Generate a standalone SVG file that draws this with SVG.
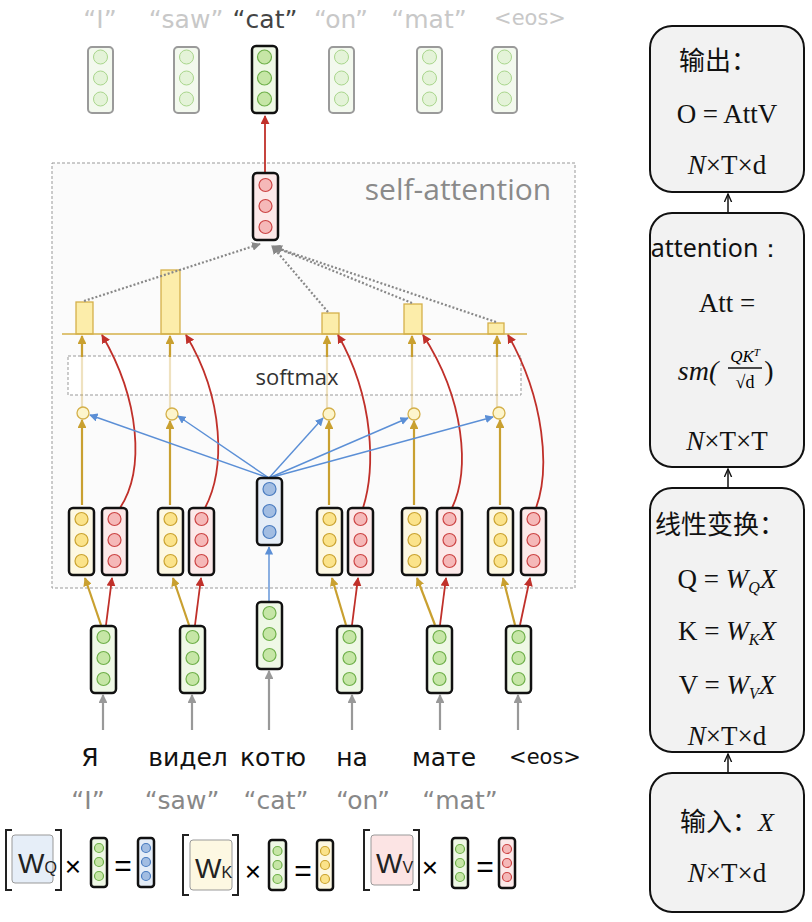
<svg xmlns="http://www.w3.org/2000/svg" width="812" height="922" viewBox="0 0 812 922">
<defs>
<style>
.vb{stroke:#111;stroke-width:2.5}
.g{fill:#eff8e6}.gc{fill:#c6e6a6;stroke:#6fb04a;stroke-width:1.2}
.y{fill:#fdf8e2}.yc{fill:#fbe38a;stroke:#caa330;stroke-width:1.2}
.r{fill:#fce9e9}.rc{fill:#f5b8b8;stroke:#cc4444;stroke-width:1.2}
.b{fill:#e5edf7}.bc{fill:#a2bde2;stroke:#4a7cc0;stroke-width:1.2}
.fg{fill:#f3f9ee;stroke:#9a9a9a;stroke-width:2}.fgc{fill:#e4f3d8;stroke:#a9d68c;stroke-width:1}
.word{font-family:"DejaVu Sans",sans-serif;font-size:25px;fill:#111;text-anchor:middle}
.gl{font-family:"DejaVu Sans",sans-serif;font-size:25px;fill:#888;text-anchor:middle}
.tl{font-family:"DejaVu Sans",sans-serif;font-size:25px;fill:#c8c8c8;text-anchor:middle}
.gold{stroke:#c9a030;stroke-width:2.2;fill:none}
.red{stroke:#c0302a;stroke-width:1.8;fill:none}
.blue{stroke:#5b8fd6;stroke-width:1.4;fill:none}
.gray{stroke:#999;stroke-width:2.2;fill:none}
.dot{stroke:#888;stroke-width:2.2;stroke-dasharray:2 2;fill:none}
.rb{fill:#f2f2f2;stroke:#111;stroke-width:2}
.m{font-family:"Liberation Serif",serif;font-size:27px;fill:#111;text-anchor:middle}
.cj{font-family:"Noto Sans CJK SC","Noto Sans",sans-serif;font-size:26px;fill:#111;text-anchor:middle}
</style>
<marker id="ag" viewBox="0 0 10 10" refX="9" refY="5" markerWidth="4" markerHeight="4" orient="auto"><path d="M0,0L10,5L0,10z" fill="#c9a030"/></marker>
<marker id="ar" viewBox="0 0 10 10" refX="9" refY="5" markerWidth="5" markerHeight="5" orient="auto"><path d="M0,0L10,5L0,10z" fill="#c0302a"/></marker>
<marker id="ab" viewBox="0 0 10 10" refX="9" refY="5" markerWidth="6" markerHeight="6" orient="auto"><path d="M0,0L10,5L0,10z" fill="#5b8fd6"/></marker>
<marker id="ay" viewBox="0 0 10 10" refX="9" refY="5" markerWidth="4" markerHeight="4" orient="auto"><path d="M0,0L10,5L0,10z" fill="#999"/></marker>
<marker id="ad" viewBox="0 0 10 10" refX="9" refY="5" markerWidth="4" markerHeight="4" orient="auto"><path d="M0,0L10,5L0,10z" fill="#888"/></marker>
<marker id="ak" viewBox="0 0 10 10" refX="9" refY="5" markerWidth="6" markerHeight="6" orient="auto"><path d="M0,1L9,5L0,9" fill="none" stroke="#111" stroke-width="1.5"/></marker>
</defs>

<rect x="52" y="163" width="523" height="425" fill="#fbfbfb" stroke="#999" stroke-dasharray="3 2"/>
<text x="458" y="200" font-family="Open Sans,sans-serif" font-size="30" fill="#8a8a8a" text-anchor="middle">self-attention</text>
<rect x="68" y="356" width="453" height="39" fill="#fff" stroke="#999" stroke-dasharray="3 2"/>
<text x="297" y="385" font-family="Open Sans,sans-serif" font-size="22" fill="#333" text-anchor="middle">softmax</text>

<g id="top-labels">
<text class="tl" x="100" y="28">“I”</text>
<text class="tl" x="186" y="28">“saw”</text>
<text class="word" x="265" y="28" style="fill:#444">“cat”</text>
<text class="tl" x="341" y="28">“on”</text>
<text class="tl" x="429" y="28">“mat”</text>
<text class="tl" x="530" y="25" style="font-size:21px">&lt;eos&gt;</text>
</g>
<g id="top-vectors">
<rect class="fg" x="88" y="47" width="25" height="66" rx="4"/><circle class="fgc" cx="100.5" cy="57" r="7"/><circle class="fgc" cx="100.5" cy="78" r="7"/><circle class="fgc" cx="100.5" cy="99" r="7"/>
<rect class="fg" x="174" y="47" width="25" height="66" rx="4"/><circle class="fgc" cx="186.5" cy="57" r="7"/><circle class="fgc" cx="186.5" cy="78" r="7"/><circle class="fgc" cx="186.5" cy="99" r="7"/>
<rect class="g vb" x="252" y="46" width="25" height="67" rx="4"/><circle class="gc" cx="264.5" cy="57" r="7"/><circle class="gc" cx="264.5" cy="78" r="7"/><circle class="gc" cx="264.5" cy="99" r="7"/>
<rect class="fg" x="329" y="47" width="25" height="66" rx="4"/><circle class="fgc" cx="341.5" cy="57" r="7"/><circle class="fgc" cx="341.5" cy="78" r="7"/><circle class="fgc" cx="341.5" cy="99" r="7"/>
<rect class="fg" x="417" y="47" width="25" height="66" rx="4"/><circle class="fgc" cx="429.5" cy="57" r="7"/><circle class="fgc" cx="429.5" cy="78" r="7"/><circle class="fgc" cx="429.5" cy="99" r="7"/>
<rect class="fg" x="492" y="47" width="25" height="66" rx="4"/><circle class="fgc" cx="504.5" cy="57" r="7"/><circle class="fgc" cx="504.5" cy="78" r="7"/><circle class="fgc" cx="504.5" cy="99" r="7"/>
</g>

<g id="bars" fill="#fcedaa" stroke="#d4b04a" stroke-width="1.3">
<rect x="76" y="302" width="17" height="32"/>
<rect x="161" y="270" width="19" height="64"/>
<rect x="322" y="313" width="17" height="21"/>
<rect x="404" y="304" width="18" height="30"/>
<rect x="488" y="323" width="16" height="11"/>
<line x1="62" y1="334" x2="527" y2="334" stroke="#d4b04a" stroke-width="1.6"/>
</g>
<g id="scores" fill="#fdf5cc" stroke="#d4b04a" stroke-width="1.3">
<circle cx="83" cy="413" r="6"/><circle cx="172" cy="414" r="6"/><circle cx="329" cy="414" r="6"/><circle cx="414" cy="414" r="6"/><circle cx="499" cy="413" r="6"/>
</g>

<g id="connectors">
<line class="red" x1="265" y1="173" x2="265" y2="116" marker-end="url(#ar)" stroke-width="2.2"/>
<path class="dot" d="M84 301L260 244" marker-end="url(#ad)"/>
<path class="dot" d="M328 312L272 246" marker-end="url(#ad)"/>
<path class="dot" d="M412 303L272 246" marker-end="url(#ad)"/>
<path class="dot" d="M496 322L274 247" marker-end="url(#ad)"/>
<g class="gold" marker-end="url(#ag)">
<path d="M82 505V420"/><path d="M170 505V421"/><path d="M329 505V421"/><path d="M414 505V421"/><path d="M500 505V420"/>
</g>
<g stroke="#c9a030" stroke-width="2.2" stroke-opacity="0.3">
<path d="M82 407V338"/><path d="M170 408V338"/><path d="M327 408V338"/><path d="M412 408V338"/><path d="M497 407V338"/>
</g>
<g class="gold" marker-end="url(#ag)">
<path d="M82 357V336"/><path d="M170 357V336"/><path d="M327 357V336"/><path d="M412 357V336"/><path d="M497 357V336"/>
</g>
<g class="red" marker-end="url(#ar)">
<path d="M120 508C145 470 140 400 102 335"/>
<path d="M205 508C225 470 225 400 186 335"/>
<path d="M363 508C375 470 375 400 338 335"/>
<path d="M452 508C470 470 465 400 423 335"/>
<path d="M536 508C550 470 545 400 508 335"/>
</g>
<g class="blue" marker-end="url(#ab)">
<path d="M269 478L90 415"/><path d="M269 478L178 416"/><path d="M269 478L323 418"/><path d="M269 478L408 418"/><path d="M269 478L493 417"/>
</g>
<g class="gold" marker-end="url(#ag)">
<path d="M101 625L85 578"/><path d="M189 625L173 578"/><path d="M346 625L332 578"/><path d="M435 625L417 578"/><path d="M515 625L503 578"/>
</g>
<g class="red" stroke-width="2.2" marker-end="url(#ar)">
<path d="M106 625L112 578"/><path d="M195 625L201 578"/><path d="M352 625L358 578"/><path d="M440 625L446 578"/><path d="M520 625L530 578"/>
</g>
<path class="blue" stroke-width="2.2" d="M269 602V547" marker-end="url(#ab)"/>
<g class="gray" marker-end="url(#ay)">
<path d="M103 730V695"/><path d="M192 730V695"/><path d="M269 730V671"/><path d="M352 730V695"/><path d="M440 730V695"/><path d="M518 730V695"/>
</g>
<path d="M728 212V194" stroke="#111" stroke-width="1.5" marker-end="url(#ak)"/>
<path d="M728 488V469" stroke="#111" stroke-width="1.5" marker-end="url(#ak)"/>
<path d="M728 773V754" stroke="#111" stroke-width="1.5" marker-end="url(#ak)"/>
</g>

<g id="output-vector">
<rect class="r vb" x="253" y="173" width="25" height="67" rx="4"/><circle class="rc" cx="265.5" cy="185" r="6.5"/><circle class="rc" cx="265.5" cy="206" r="6.5"/><circle class="rc" cx="265.5" cy="227" r="6.5"/>
</g>

<g id="keys-values">
<rect class="y vb" x="69" y="508" width="25" height="67" rx="4"/><circle class="yc" cx="81.5" cy="519" r="6.5"/><circle class="yc" cx="81.5" cy="540" r="6.5"/><circle class="yc" cx="81.5" cy="561" r="6.5"/>
<rect class="r vb" x="102" y="508" width="25" height="67" rx="4"/><circle class="rc" cx="114.5" cy="519" r="6.5"/><circle class="rc" cx="114.5" cy="540" r="6.5"/><circle class="rc" cx="114.5" cy="561" r="6.5"/>
<rect class="y vb" x="158" y="508" width="25" height="67" rx="4"/><circle class="yc" cx="170.5" cy="519" r="6.5"/><circle class="yc" cx="170.5" cy="540" r="6.5"/><circle class="yc" cx="170.5" cy="561" r="6.5"/>
<rect class="r vb" x="189" y="508" width="25" height="67" rx="4"/><circle class="rc" cx="201.5" cy="519" r="6.5"/><circle class="rc" cx="201.5" cy="540" r="6.5"/><circle class="rc" cx="201.5" cy="561" r="6.5"/>
<rect class="y vb" x="317" y="508" width="25" height="67" rx="4"/><circle class="yc" cx="329.5" cy="519" r="6.5"/><circle class="yc" cx="329.5" cy="540" r="6.5"/><circle class="yc" cx="329.5" cy="561" r="6.5"/>
<rect class="r vb" x="348" y="508" width="25" height="67" rx="4"/><circle class="rc" cx="360.5" cy="519" r="6.5"/><circle class="rc" cx="360.5" cy="540" r="6.5"/><circle class="rc" cx="360.5" cy="561" r="6.5"/>
<rect class="y vb" x="402" y="508" width="25" height="67" rx="4"/><circle class="yc" cx="414.5" cy="519" r="6.5"/><circle class="yc" cx="414.5" cy="540" r="6.5"/><circle class="yc" cx="414.5" cy="561" r="6.5"/>
<rect class="r vb" x="437" y="508" width="25" height="67" rx="4"/><circle class="rc" cx="449.5" cy="519" r="6.5"/><circle class="rc" cx="449.5" cy="540" r="6.5"/><circle class="rc" cx="449.5" cy="561" r="6.5"/>
<rect class="y vb" x="488" y="508" width="25" height="67" rx="4"/><circle class="yc" cx="500.5" cy="519" r="6.5"/><circle class="yc" cx="500.5" cy="540" r="6.5"/><circle class="yc" cx="500.5" cy="561" r="6.5"/>
<rect class="r vb" x="521" y="508" width="25" height="67" rx="4"/><circle class="rc" cx="533.5" cy="519" r="6.5"/><circle class="rc" cx="533.5" cy="540" r="6.5"/><circle class="rc" cx="533.5" cy="561" r="6.5"/>
</g>
<g id="query">
<rect class="b vb" x="257" y="478" width="25" height="67" rx="4"/><circle class="bc" cx="269.5" cy="489" r="6.5"/><circle class="bc" cx="269.5" cy="511" r="6.5"/><circle class="bc" cx="269.5" cy="532" r="6.5"/>
</g>
<g id="inputs">
<rect class="g vb" x="91" y="626" width="25" height="67" rx="4"/><circle class="gc" cx="103.5" cy="637" r="6.5"/><circle class="gc" cx="103.5" cy="658" r="6.5"/><circle class="gc" cx="103.5" cy="679" r="6.5"/>
<rect class="g vb" x="180" y="626" width="25" height="67" rx="4"/><circle class="gc" cx="192.5" cy="637" r="6.5"/><circle class="gc" cx="192.5" cy="658" r="6.5"/><circle class="gc" cx="192.5" cy="679" r="6.5"/>
<rect class="g vb" x="257" y="602" width="25" height="67" rx="4"/><circle class="gc" cx="269.5" cy="613" r="6.5"/><circle class="gc" cx="269.5" cy="634" r="6.5"/><circle class="gc" cx="269.5" cy="655" r="6.5"/>
<rect class="g vb" x="337" y="626" width="25" height="67" rx="4"/><circle class="gc" cx="349.5" cy="637" r="6.5"/><circle class="gc" cx="349.5" cy="658" r="6.5"/><circle class="gc" cx="349.5" cy="679" r="6.5"/>
<rect class="g vb" x="427" y="626" width="25" height="67" rx="4"/><circle class="gc" cx="439.5" cy="637" r="6.5"/><circle class="gc" cx="439.5" cy="658" r="6.5"/><circle class="gc" cx="439.5" cy="679" r="6.5"/>
<rect class="g vb" x="506" y="626" width="25" height="67" rx="4"/><circle class="gc" cx="518.5" cy="637" r="6.5"/><circle class="gc" cx="518.5" cy="658" r="6.5"/><circle class="gc" cx="518.5" cy="679" r="6.5"/>
</g>
<g id="words">
<text class="word" x="90" y="766">Я</text>
<text class="word" x="188" y="766">видел</text>
<text class="word" x="273" y="766">котю</text>
<text class="word" x="352" y="766">на</text>
<text class="word" x="444" y="766">мате</text>
<text class="word" x="545" y="764" style="font-size:21px">&lt;eos&gt;</text>
<text class="gl" x="88" y="809">“I”</text>
<text class="gl" x="182" y="809">“saw”</text>
<text class="gl" x="276" y="809">“cat”</text>
<text class="gl" x="363" y="809">“on”</text>
<text class="gl" x="460" y="809">“mat”</text>
</g>

<g id="formulas" font-family="Liberation Sans,sans-serif">
<g fill="none" stroke="#222" stroke-width="2">
<path d="M12 830H6V890H12"/><path d="M55 830H61V890H55"/>
<path d="M189 835H183V895H189"/><path d="M232 835H238V895H232"/>
<path d="M370 830H364V890H370"/><path d="M413 830H419V890H413"/>
</g>
<rect x="12" y="835" width="41" height="48" rx="3" fill="#e6eef8" stroke="#999"/>
<text x="18" y="873" font-size="28" fill="#222">W<tspan font-size="16">Q</tspan></text>
<text x="73" y="876" font-size="28" text-anchor="middle">×</text>
<rect class="g vb" x="91" y="838" width="16" height="49" rx="3"/><circle class="gc" cx="99" cy="848" r="4.5"/><circle class="gc" cx="99" cy="862" r="4.5"/><circle class="gc" cx="99" cy="876" r="4.5"/>
<text x="123" y="876" font-size="30" text-anchor="middle">=</text>
<rect class="b vb" x="138" y="838" width="16" height="49" rx="3"/><circle class="bc" cx="146" cy="848" r="4.5"/><circle class="bc" cx="146" cy="862" r="4.5"/><circle class="bc" cx="146" cy="876" r="4.5"/>

<rect x="190" y="840" width="42" height="50" rx="3" fill="#fdf8e2" stroke="#999"/>
<text x="195" y="878" font-size="28" fill="#222">W<tspan font-size="16">K</tspan></text>
<text x="253" y="881" font-size="28" text-anchor="middle">×</text>
<rect class="g vb" x="269" y="840" width="17" height="50" rx="3"/><circle class="gc" cx="277.5" cy="851" r="4.5"/><circle class="gc" cx="277.5" cy="865" r="4.5"/><circle class="gc" cx="277.5" cy="879" r="4.5"/>
<text x="303" y="881" font-size="30" text-anchor="middle">=</text>
<rect class="y vb" x="317" y="840" width="16" height="50" rx="3"/><circle class="yc" cx="325" cy="851" r="4.5"/><circle class="yc" cx="325" cy="865" r="4.5"/><circle class="yc" cx="325" cy="879" r="4.5"/>

<rect x="371" y="835" width="42" height="50" rx="3" fill="#fce4e4" stroke="#999"/>
<text x="376" y="873" font-size="28" fill="#222">W<tspan font-size="16">V</tspan></text>
<text x="430" y="877" font-size="28" text-anchor="middle">×</text>
<rect class="g vb" x="452" y="838" width="16" height="50" rx="3"/><circle class="gc" cx="460" cy="849" r="4.5"/><circle class="gc" cx="460" cy="863" r="4.5"/><circle class="gc" cx="460" cy="877" r="4.5"/>
<text x="485" y="877" font-size="30" text-anchor="middle">=</text>
<rect class="r vb" x="499" y="838" width="16" height="50" rx="3"/><circle class="rc" cx="507" cy="849" r="4.5"/><circle class="rc" cx="507" cy="863" r="4.5"/><circle class="rc" cx="507" cy="877" r="4.5"/>
</g>

<g id="box-output">
<rect class="rb" x="650" y="26" width="154" height="166" rx="22"/>
<text class="cj" x="718" y="70">输出：</text>
<text class="m" x="727" y="123">O = AttV</text>
<text class="m" x="727" y="174"><tspan font-style="italic">N</tspan>×T×d</text>
</g>
<g id="box-attention">
<rect class="rb" x="650" y="213" width="154" height="254" rx="22"/>
<text x="717" y="257" font-family="Noto Sans,sans-serif" font-size="25" text-anchor="middle" fill="#111">attention：</text>
<text class="m" x="727" y="312">Att =</text>
<text class="m" x="698" y="380" font-style="italic" style="font-size:28px">sm(</text>
<text x="745" y="362" font-family="Liberation Serif,serif" font-size="17" font-style="italic" text-anchor="middle">QK<tspan font-size="11" dy="-6">T</tspan></text>
<line x1="728" y1="368" x2="762" y2="368" stroke="#111" stroke-width="1.5"/>
<text x="745" y="388" font-family="Liberation Serif,serif" font-size="18" text-anchor="middle">√d</text>
<text class="m" x="769" y="380" style="font-size:28px">)</text>
<text class="m" x="727" y="450"><tspan font-style="italic">N</tspan>×T×T</text>
</g>
<g id="box-linear">
<rect class="rb" x="650" y="488" width="154" height="264" rx="22"/>
<text class="cj" x="720" y="534">线性变换：</text>
<text class="m" x="727" y="588">Q = <tspan font-style="italic">W<tspan font-size="16" dy="5">Q</tspan><tspan dy="-5">X</tspan></tspan></text>
<text class="m" x="727" y="640">K = <tspan font-style="italic">W<tspan font-size="16" dy="5">K</tspan><tspan dy="-5">X</tspan></tspan></text>
<text class="m" x="727" y="694">V = <tspan font-style="italic">W<tspan font-size="16" dy="5">V</tspan><tspan dy="-5">X</tspan></tspan></text>
<text class="m" x="727" y="745"><tspan font-style="italic">N</tspan>×T×d</text>
</g>
<g id="box-input">
<rect class="rb" x="650" y="773" width="154" height="139" rx="22"/>
<text class="cj" x="727" y="831">输入：<tspan font-family="Liberation Serif,serif" font-style="italic">X</tspan></text>
<text class="m" x="727" y="882"><tspan font-style="italic">N</tspan>×T×d</text>
</g>
</svg>
